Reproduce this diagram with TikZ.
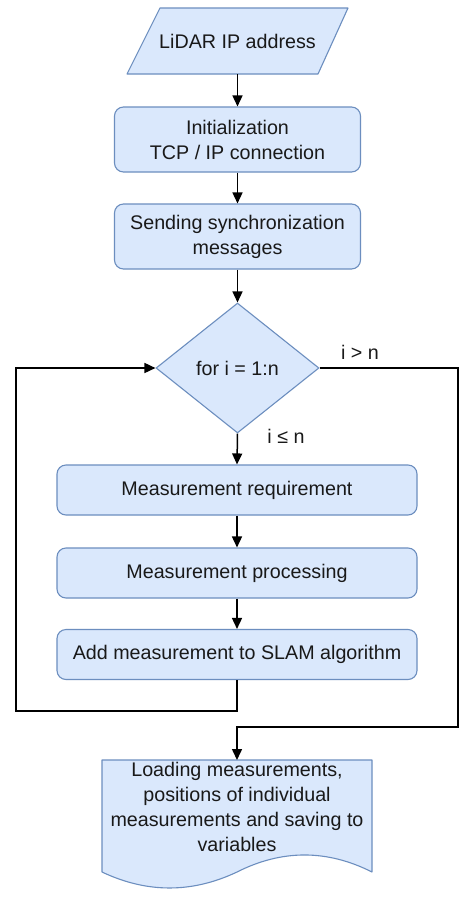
\documentclass[tikz,border=0pt]{standalone}
\usepackage{fontspec}
\setmainfont{Liberation Sans}
\usetikzlibrary{shapes.geometric,arrows.meta}
\definecolor{bfill}{HTML}{DAE8FC}
\definecolor{bdraw}{HTML}{6C8EBF}
\begin{document}
\begin{tikzpicture}[x=1pt,y=-1pt,
  txt/.style={font=\fontsize{19.7}{25}\selectfont,align=center,text=black!90},
  box/.style={txt,draw=bdraw,fill=bfill,rounded corners=9pt,line width=1.1pt,inner sep=0pt},
  bigbox/.style={box,minimum width=246pt,minimum height=65pt},
  widebox/.style={box,minimum width=360pt,minimum height=50pt},
  shapeline/.style={draw=bdraw,fill=bfill,line width=1.1pt,line join=round},
  arr/.style={line width=1.5pt,-{Triangle[length=11pt,width=10pt]}},
  lbl/.style={font=\fontsize{19.7}{25}\selectfont,text=black!90}]
\fill[white] (0,0) rectangle (474,900);
\useasboundingbox (0,0) rectangle (474,900);
% input parallelogram
\path[shapeline] (160,8) -- (348,8) -- (318,74) -- (127,74) -- cycle;
\node[txt,minimum height=66pt,inner sep=0pt] (inp) at (237.5,41) {LiDAR IP address};
\node[bigbox] (init) at (237.5,139.5) {Initialization\\TCP / IP connection};
\node[bigbox] (sync) at (237.5,236.5) {Sending synchronization\\messages};
\node[txt,diamond,draw=bdraw,fill=bfill,line width=1.1pt,minimum width=163pt,minimum height=130pt,inner sep=0pt] (dia) at (237.5,368) {for i = 1:n};
\node[widebox] (req) at (237,490) {Measurement requirement};
\node[widebox] (proc) at (237,573) {Measurement processing};
\node[widebox] (add) at (237,654.5) {Add measurement to SLAM algorithm};
% document shape
\path[shapeline] (102,760) -- (372,760) -- (372,872)
  .. controls (327,849.3) and (282,849.3) .. (237,872)
  .. controls (192,893.3) and (147,893.3) .. (102,872) -- cycle;
\coordinate (docTop) at (237,760);
\node[txt] (doc) at (237,807) {Loading measurements,\\positions of individual\\measurements and saving to\\variables};
% coordinates for loops
\coordinate (lb) at (16,711);
\coordinate (rb) at (458,727);
% connectors
\draw[arr] (inp.south) -- (init.north);
\draw[arr] (init.south) -- (sync.north);
\draw[arr] (sync.south) -- (dia.north);
\draw[arr] (dia.south) -- (req.north);
\draw[arr] (req.south) -- (proc.north);
\draw[arr] (proc.south) -- (add.north);
\draw[arr] (add.south) |- (lb) |- (dia.west);
\draw[arr] (dia.east) -| (rb) -| (docTop);
% labels
\node[lbl] (gt) at (360,352) {i > n};
\node[lbl] (le) at (286,436) {i ≤ n};
\end{tikzpicture}
\end{document}
